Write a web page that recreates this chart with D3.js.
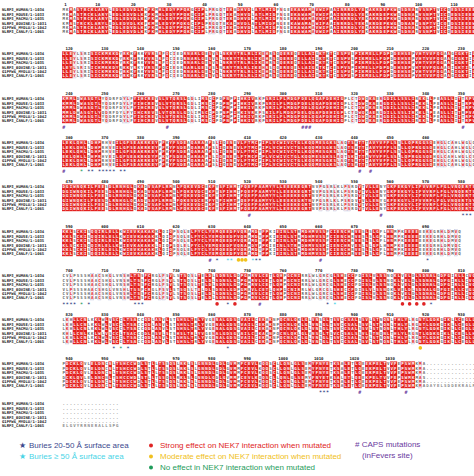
<!doctype html>
<html>
<head>
<style>
  body { margin: 0; background: #fff; }
  svg text.mono { font-family: "DejaVu Sans Mono", monospace; }
  svg text.lg { font-family: "Liberation Sans", Arial, sans-serif; }
</style>
</head>
<body>
<svg id="aln" width="474" height="476"></svg>
<script src="https://cdnjs.cloudflare.com/ajax/libs/d3/7.8.5/d3.min.js"></script>
<script>
  // sequence names
  var names = ['NLRP3_HUMAN/1-1034', 'NLRP3_MOUSE/1-1033', 'NLRP3_MACMU/1-1035',
               'NLRP3_BOVINE/1-1031', 'G1PFW6_MYOLU/1-1042', 'NLRP3_CANLF/1-1065'];

  // reference residues (human), used for the letters
  var humanSeq = 'MKMASTRCKLARYLEDLEDVDLKKFKMHLEDYPPQKGCIPLPRGQTEKADHVDLATLMIDFNGEEKAWAMAVWIFAAINRRDLYEKAKRDEPKWGSDNARVSNPTVICQEDSIEEEWMGLLEYLSRISICKMKKDYRKKYRKYVRSRFQCIEDRNARLGESVSLNKRYTRLRLIKEHRSQQEREQELLAIGKTKTCESPVSPIKMELLFDPDDEHSEPVHTVVFQGAAGIGKTILARKMMLDWASGTLYQDRFDYLFYIHCREVSLVTQRSLGDLIMSCCPDPNPPIHKIVRKPSRILFLMDGFDELQGAFDEHIGPLCTDWQKAERGDILLSSLIRKKLLPEASLLITTRPVALEKLQHLLDHPRHVEILGFSEAKRKEYFFKYFSDEAQARAAFSLIQENEVLFTMCFIPLVCWIVCTGLKQQMESGKSLAQTSKTTTAVYVFFLSSLLQPRGGSQEHGLCAHLWGLCSLAADGIWNQKILFEESDLRNHGLQKADVSAFLRMNLFQKEVDCEKFYSFIHMTFQEFFAAMYYLLEEEKEGRTNVPGSRLKLPSRDVTVLLENYGKFEKGYLIFVVRFLFGLVNQERTSYLEKKLSCKISQQIRLELLKWIEVKAKAKKLQIQPSQLELFYCLYEMQEEDFVQRAMDYFPKIEINLSTRMDHMVSSFCIENCHRVESLSLGFLHNMPKEEEEEEKEGRHLDMVQCVLPSSSHAACSHGLVNSHLTSSFCRGLFSVLSTSQSLTELDLSDNSLGDPGMRVLCETLQHPGCNIRRLWLGRCGLSHECCFDISLVLSSNQKLVELDLSDNALGDFGIRLLCVGLKHLLCNLKKLWLVSCCLTSACCQDLASVLSTSHSLTRLYVGENALGDSGVAILCEKAKNPQCNLQKLGLVNSGLTSVCCSALSSVLSTNQNLTHLYLRGNTLGDKGIKLLCEGLLHPDCKLQVLELDNCNLTSHCCWDLSTLLTSSQSLRKLSLGNNDLGDLGVMMFCEVLKQQSCLLQNLGLSEMYFNYETKSALETLQEEKPELTVVFEPSW';
  var canlfTail = 'ELGVYRRNERALLSPG';

  // conservation per column: R strict, p similar, . none, - gap (last row only)
  var blockPatterns = [
    '..R.RRRRRRRRR.RRRRRRRRR.RR.RRRRRRRRR.RRR.pp.p.RR.RRRR.RRRRRR.p..RRRRRRpRRRR.RRRRRRRRR.RRRRRRRR.RRRR.RRRRR.RR.RRRRRRRRRR',
    'RRRp.p..RRRRRRRR.RR.R..RRR.R.R.p..RRRRRR.R.R.RRRRRRRRRRRpR.R.RRRR.RRRRR.RR.R.RRRR.RRRRRRRRRR.RRRRR.RRRRRRRR.R.RRRR.RRR',
    'RRRR.RRRRRR.p....pp.RRRRRR.RRRRRRRR.p..RR.R..RR.R.RRRR.p.RRRRRRRRRRRRRRRRRRRRRR..p.RR.RR.pRRRRRRRRR.RR.R..RRRR.R.RRRR',
    'RRRRRRR.RRR..p.RRRRRRRRRRRR.R.RRRRR.RRRR.R.pR.RR.RRRRRR.RRRRRRRRRRRRRRRRRRRRRpp.RR.RR.RRRRRRRR.RRRRRRRRR.ppp.p..p.p.R.RR',
    'RRRRRRRRRRRR.RRRRRRR.RR.RRRRRRR.RRRRRRRR.RR.RRRRR.RRRRRRRRRRRRRRRRRRRR..p.p.p..pp..R.RRRR..RRRRRRRRRRRRRRRRRRRRRRRRRRR.',
    'RRR.RRR.RRRRRRRR.RRRRRRRRR.R..R.p.p.RRRRRRRRRRRRRRRR.RR.RR..RRRRRR.RRRRRRR.RRRRRR.RR.R.RR..RR.p.RRRR..pp..p.p.p.',
    '..p.....p.p..p...p.RRR.RR..pp.R..RR.p.R.RR.RRRRRR.RR.RRRRR.RRR.RRRR..p..p.p.RRR.RR..RRR.RRR..RR.RR.RRRRRR.RRR.RRR.RR',
    '.p.RRRR..RR.R.RR.RRRR..RR.RR.R..RRRRR.RR..pRRRRRR.RRRR.RR.R..RRRRR.RR.RR.RR.RR.RRRR.RR.RR.RR.RRRR.p.RRRRRR.RR.RR.RRRR',
    '.RRRRR..RRRR.R.RRRRRR.RR.R.RR.RR.RR.R.RRRRR.RR.RR.RRRRR.RR.R.RRR.RRR.pRRRRR.RR.RR.RR.RRRRRR.RR.RRRR.p.--------------',
    '----------------'
  ];
  var blockTicks = [
    [1, 10, 20, 30, 40, 50, 60, 70, 80, 90, 100, 110],
    [120, 130, 140, 150, 160, 170, 180, 190, 200, 210, 220, 230],
    [240, 250, 260, 270, 280, 290, 300, 310, 320, 330, 340, 350],
    [360, 370, 380, 390, 400, 410, 420, 430, 440, 450, 460],
    [470, 480, 490, 500, 510, 520, 530, 540, 550, 560, 570, 580],
    [590, 600, 610, 620, 630, 640, 650, 660, 670, 680, 690],
    [700, 710, 720, 730, 740, 750, 760, 770, 780, 790, 800, 810],
    [820, 830, 840, 850, 860, 870, 880, 890, 900, 910, 920, 930],
    [940, 950, 960, 970, 980, 990, 1000, 1010, 1020, 1030],
    []
  ];
  // marks under the alignment: [block, column, kind]
  var marks = [
    [2, 0, 'hash'], [2, 29, 'hash'], [2, 67, 'hash'], [2, 68, 'hash'], [2, 69, 'hash'], [2, 112, 'hash'],
    [3, 0, 'hash'], [3, 5, 'green'], [3, 7, 'star'], [3, 8, 'star'], [3, 10, 'star'], [3, 11, 'star'],
    [3, 12, 'star'], [3, 13, 'star'], [3, 14, 'star'], [3, 16, 'star'], [3, 17, 'star'], [3, 83, 'hash'], [3, 86, 'hash'],
    [4, 52, 'hash'], [4, 89, 'hash'], [4, 112, 'star'], [4, 113, 'star'], [4, 114, 'star'],
    [5, 41, 'hash'], [5, 43, 'star'], [5, 46, 'cyan'], [5, 47, 'cyan'], [5, 49, 'yellow'], [5, 50, 'yellow'],
    [5, 51, 'yellow'], [5, 53, 'cyan'], [5, 54, 'star'], [5, 55, 'star'], [5, 72, 'hash'], [5, 102, 'star'],
    [6, 0, 'star'], [6, 1, 'star'], [6, 2, 'star'], [6, 3, 'star'], [6, 5, 'green'], [6, 7, 'star'],
    [6, 20, 'star'], [6, 21, 'star'], [6, 22, 'star'], [6, 43, 'red'], [6, 46, 'star'], [6, 48, 'red'],
    [6, 55, 'hash'], [6, 74, 'star'], [6, 76, 'cyan'], [6, 95, 'red'], [6, 97, 'red'], [6, 99, 'red'],
    [6, 101, 'red'], [6, 103, 'star'],
    [7, 14, 'star'], [7, 16, 'green'], [7, 18, 'star'], [7, 46, 'star'], [7, 100, 'yellow'],
    [8, 72, 'star'], [8, 73, 'star'], [8, 74, 'star'], [8, 83, 'hash'], [8, 96, 'hash']
  ];
  var legendLeft = [['Buries 20-50 Å surface area', '#3c4a8e'], ['Buries ≥ 50 Å surface area', '#49d4e6']];
  var legendMid = [['Strong effect on NEK7 interaction when mutated', '#e02424'],
                   ['Moderate effect on NEK7 interaction when mutated', '#f0c020'],
                   ['No effect in NEK7 interaction when mutated', '#1e9b5a']];

  var svg = d3.select('#aln');
  var blockY = [8, 52, 97, 141, 185, 230, 274, 318, 362, 402];
  var rowH = 4.4, x0 = 62, nCols = 115;
  var x = d3.scaleLinear().domain([0, nCols]).range([x0, 472]);
  var cw = x(1) - x(0);
  var markColor = {hash: '#6a3aa0', star: '#2e3b80', cyan: '#3cd0e4', red: '#e02424', yellow: '#f2c21b', green: '#1e9b5a'};

  var pos = 0;
  blockPatterns.forEach(function(pat, b) {
    var g = svg.append('g').attr('transform', 'translate(0,' + blockY[b] + ')');
    g.selectAll('text.nm').data(names).join('text').attr('class', 'mono')
      .attr('x', 2).attr('y', function(d, i) { return i * rowH + 3.4; })
      .attr('font-size', 3.9).attr('font-weight', 'bold').attr('fill', '#222')
      .text(function(d) { return d; });

    var cols = pat.split('');
    cols.forEach(function(c, j) {
      var cx = x(j);
      if (c === 'R') {
        g.append('rect').attr('x', cx).attr('y', -0.6).attr('width', cw + 0.05).attr('height', rowH * 6 + 0.4)
          .attr('fill', '#e3211f');
      } else if (c === 'p') {
        g.append('rect').attr('x', cx + 0.2).attr('y', -0.4).attr('width', cw - 0.4).attr('height', rowH * 6)
          .attr('fill', '#fbe9ea').attr('stroke', '#9fb0d8').attr('stroke-width', 0.3);
      }
      for (var r = 0; r < 6; r++) {
        var ch;
        if (c === '-') {
          ch = r === 5 && b === 9 ? canlfTail[j] : (r === 5 && b === 8 ? 'ELSDDEKRALPSDAY'[j % 15] : '.');
        } else {
          ch = humanSeq[(pos + (r === 3 ? 1 : 0)) % humanSeq.length];
        }
        g.append('text').attr('class', 'mono').attr('x', cx + cw / 2).attr('y', r * rowH + 3.3)
          .attr('text-anchor', 'middle').attr('font-size', 4.1).attr('font-weight', 'bold')
          .attr('fill', c === 'R' ? '#fff' : (c === 'p' ? '#e3211f' : (c === '-' ? '#888' : '#666')))
          .text(ch);
      }
      if (c !== '-') pos++;
    });
    // tick numbers, one per ten residues
    var ticks = blockTicks[b];
    g.selectAll('text.tk').data(ticks).join('text').attr('class', 'mono')
      .attr('x', function(d) { return x(Math.min(nCols - 1, ticks[0] === 1 ? d : d - ticks[0] + 2)); })
      .attr('y', -2.2).attr('text-anchor', 'middle').attr('font-size', 4).attr('font-weight', 'bold').attr('fill', '#222')
      .text(function(d) { return d; });
  });

  // marks
  marks.forEach(function(m) {
    var gx = x(m[1]) + cw / 2, gy = blockY[m[0]] + rowH * 6 + 3.5;
    if (m[2] === 'red' || m[2] === 'yellow') {
      svg.append('circle').attr('cx', gx).attr('cy', gy).attr('r', 1.8).attr('fill', markColor[m[2]]);
    } else {
      svg.append('text').attr('class', 'mono').attr('x', gx).attr('y', gy + 2).attr('text-anchor', 'middle')
        .attr('font-size', 5).attr('font-weight', 'bold').attr('fill', markColor[m[2]])
        .text(m[2] === 'hash' ? '#' : '*');
    }
  });

  // legend
  var lg = svg.append('g');
  legendLeft.forEach(function(d, i) {
    lg.append('text').attr('class', 'lg').attr('x', 19).attr('y', 448 + i * 11).attr('font-size', 8).attr('fill', d[1]).text('★');
    lg.append('text').attr('class', 'lg').attr('x', 29).attr('y', 448 + i * 11).attr('font-size', 8).attr('fill', d[1]).text(d[0]);
  });
  legendMid.forEach(function(d, i) {
    lg.append('circle').attr('cx', 151).attr('cy', 445.5 + i * 11).attr('r', 2).attr('fill', d[1]);
    lg.append('text').attr('class', 'lg').attr('x', 160).attr('y', 448 + i * 11).attr('font-size', 8).attr('fill', d[1]).text(d[0]);
  });
  lg.append('text').attr('class', 'lg').attr('x', 355).attr('y', 447).attr('font-size', 8).attr('fill', '#6a3aa0').text('# CAPS mutations');
  lg.append('text').attr('class', 'lg').attr('x', 362).attr('y', 458).attr('font-size', 8).attr('fill', '#6a3aa0').text('(inFevers site)');
</script>
</body>
</html>
